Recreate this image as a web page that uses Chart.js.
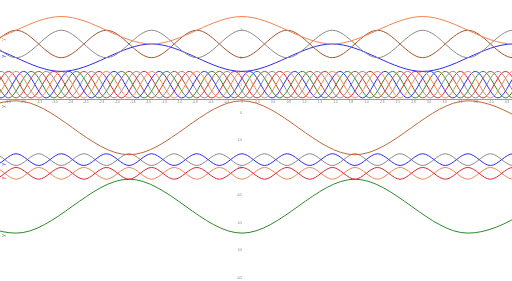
<!DOCTYPE html>
<html>
<head>
<meta charset="utf-8">
<script src="https://cdn.jsdelivr.net/npm/chart.js@4"></script>
<style>
  html, body { margin: 0; padding: 0; background: #fff; }
  #wrap { width: 512px; height: 281px; }
</style>
</head>
<body>
<div id="wrap"><canvas id="myChart"></canvas></div>
<script>
// tick labels of the shared x axis and of the centre y axis (bottom to top)
const xTicks = [-3.75, -3.5, -3.25, -3, -2.75, -2.5, -2.25, -2, -1.75, -1.5, -1.25, -1, -0.75, -0.5, -0.25,
  0, 0.25, 0.5, 0.75, 1, 1.25, 1.5, 1.75, 2, 2.25, 2.5, 2.75, 3, 3.25, 3.5, 3.75, 4, 4.25];
const yTickLabels = ['-0.5', '0.0', '0.5', '-0.5', '0.5', '1.0', '0', '-1', '0', '1'];

// every wave is listed by its turning points, the middle entry sits at the wave's shift
// top band
const topOrange = [2, 0, 2, 0, 2, 0, 2, 0, 2];
const topBrown = [1, -1, 1, -1, 1, -1, 1, -1, 1, -1, 1, -1, 1, -1, 1];
const topGray = [-1, 1, -1, 1, -1, 1, -1, 1, -1, 1, -1, 1, -1, 1, -1];
const topBlue = [-2, 0, -2, 0, -2, 0, -2, 0, -2];
// dense band above the x axis
const midOrange = [-1, 1, -1, 1, -1, 1, -1, 1, -1, 1, -1, 1, -1, 1, -1, 1, -1, 1, -1, 1, -1, 1, -1, 1, -1, 1, -1];
const midBrown = [1, -1, 1, -1, 1, -1, 1, -1, 1, -1, 1, -1, 1, -1, 1, -1, 1, -1, 1, -1, 1, -1, 1, -1, 1, -1, 1];
const midBlue = [-1, 1, -1, 1, -1, 1, -1, 1, -1, 1, -1, 1, -1, 1, -1, 1, -1, 1, -1, 1, -1, 1, -1, 1, -1, 1, -1];
const midGray = [1, -1, 1, -1, 1, -1, 1, -1, 1, -1, 1, -1, 1, -1, 1, -1, 1, -1, 1, -1, 1, -1, 1, -1, 1, -1, 1];
const midGreen = [-1, 1, -1, 1, -1, 1, -1, 1, -1, 1, -1, 1, -1, 1, -1, 1, -1, 1, -1, 1, -1, 1, -1, 1, -1, 1, -1];
const midRed = [1, -1, 1, -1, 1, -1, 1, -1, 1, -1, 1, -1, 1, -1, 1, -1, 1, -1, 1, -1, 1, -1, 1, -1, 1, -1, 1];
// slow waves
const bigBrown = [-1, 1, -1, 1, -1, 1, -1];
const bigGreen = [1, 0, 1, 0, 1, 0, 1];
// narrow band below
const lowBlue = [-1, 1, -1, 1, -1, 1, -1, 1, -1, 1, -1, 1, -1, 1, -1, 1, -1, 1, -1, 1, -1, 1, -1, 1, -1, 1, -1];
const lowGray = [1, -1, 1, -1, 1, -1, 1, -1, 1, -1, 1, -1, 1, -1, 1, -1, 1, -1, 1, -1, 1, -1, 1, -1, 1, -1, 1];
const lowRed = [-1, 1, -1, 1, -1, 1, -1, 1, -1, 1, -1, 1, -1, 1, -1, 1, -1, 1, -1, 1, -1, 1, -1, 1, -1, 1, -1];
const lowOrange = [1, -1, 1, -1, 1, -1, 1, -1, 1, -1, 1, -1, 1, -1, 1, -1, 1, -1, 1, -1, 1, -1, 1, -1, 1, -1, 1];

// spacing between turning points, in x units
const halfSteps = { slow: 1.811, top: 1.449, mid: 0.7244, fast: 0.3622 };
// phase shifts of the dense band
const midShifts = [0, 0.1207, 0.2415];
// little rotated names at the left end of some lines
const sideLabels = { a: 'y', d: 'y', k: 'y', l: 'y', n: 'y', p: 'y' };

const colorVar = {
    orange: '#f4834f',
    brown: '#a8522c',
    rust: '#c0663a',
    gray: '#8a8a8a',
    blue: '#2b2bf5',
    red: '#dc2430',
    green: '#2a8a2a',
    axis: '#999999',
}

function wave(values, half, shift) {
    const mid = (values.length - 1) / 2;
    return values.map((v, i) => ({ x: (i - mid) * half + shift, y: v }));
}

const H = 281;
function band(vTop, pTop, vBot, pBot) {
    const k = (vTop - vBot) / (pBot - pTop);
    return { type: 'linear', display: false, min: vBot - (H - pBot) * k, max: vTop + pTop * k };
}

function line(label, values, half, color, axis, shift = 0) {
    return {
        label: label,
        data: wave(values, half, shift),
        borderColor: color,
        borderWidth: 1,
        pointRadius: 0,
        cubicInterpolationMode: 'monotone',
        yAxisID: axis,
        clip: false,
    };
}

// writes the side labels where each line enters the plot
const sideLabelPlugin = {
    id: 'sideLabels',
    afterDatasetsDraw(chart) {
        const c = chart.ctx;
        const left = chart.chartArea.left + 4;
        chart.data.datasets.forEach((ds, di) => {
            const text = sideLabels[ds.label];
            if (!text) return;
            const pts = chart.getDatasetMeta(di).data;
            let i = 0;
            while (i < pts.length - 2 && pts[i + 1].x < left) i++;
            const t = (left - pts[i].x) / (pts[i + 1].x - pts[i].x);
            const y = pts[i].y + (pts[i + 1].y - pts[i].y) * (3 * t * t - 2 * t * t * t);
            c.save();
            c.translate(left + 1, y + 4);
            c.rotate(-Math.PI / 2);
            c.font = '5px sans-serif';
            c.fillStyle = ds.borderColor;
            c.textAlign = 'center';
            c.fillText(text, 0, 0);
            c.restore();
        });
    }
};

const ctx = document.getElementById('myChart');

new Chart(ctx, {
    type: 'line',
    data: {
        datasets: [
            line('a', topOrange, halfSteps.top, colorVar.orange, 'yTop'),
            line('b', topBrown, halfSteps.mid, colorVar.brown, 'yTop'),
            line('c', topGray, halfSteps.mid, colorVar.gray, 'yTop'),
            line('d', topBlue, halfSteps.top, colorVar.blue, 'yTop'),
            line('e', midOrange, halfSteps.fast, colorVar.orange, 'yMid', midShifts[0]),
            line('f', midBrown, halfSteps.fast, colorVar.brown, 'yMid', midShifts[0]),
            line('g', midBlue, halfSteps.fast, colorVar.blue, 'yMid', midShifts[1]),
            line('h', midGray, halfSteps.fast, colorVar.gray, 'yMid', midShifts[1]),
            line('i', midGreen, halfSteps.fast, colorVar.green, 'yMid', midShifts[2]),
            line('j', midRed, halfSteps.fast, colorVar.red, 'yMid', midShifts[2]),
            line('k', bigBrown, halfSteps.slow, colorVar.rust, 'yBig'),
            line('l', lowBlue, halfSteps.fast, colorVar.blue, 'yLowA'),
            line('m', lowGray, halfSteps.fast, colorVar.gray, 'yLowA'),
            line('n', lowRed, halfSteps.fast, colorVar.red, 'yLowB'),
            line('o', lowOrange, halfSteps.fast, colorVar.orange, 'yLowB'),
            line('p', bigGreen, halfSteps.slow, colorVar.green, 'yGreen'),
        ]
    },
    options: {
        responsive: true,
        maintainAspectRatio: false,
        animation: false,
        layout: { padding: 0 },
        plugins: { legend: { display: false }, tooltip: { enabled: false } },
        scales: {
            x: {
                type: 'linear',
                min: -3.88,
                max: 4.33,
                position: { y: 6 },
                afterBuildTicks: (scale) => { scale.ticks = xTicks.map(v => ({ value: v })); },
                grid: { drawOnChartArea: false, drawTicks: false },
                border: { color: colorVar.axis },
                ticks: { font: { size: 3 }, color: '#777', padding: 1, autoSkip: false, maxRotation: 0 },
            },
            y: {
                type: 'linear',
                min: -0.5,
                max: 9.5,
                position: { x: 0 },
                grid: { display: false },
                border: { display: false },
                ticks: {
                    stepSize: 1,
                    font: { size: 3 },
                    color: '#777',
                    padding: 1,
                    callback: (v, i) => yTickLabels[i],
                },
            },
            yTop: band(2, 14, -2, 70),
            yMid: band(1, 70, -1, 97),
            yBig: band(1, 100, -1, 155),
            yLowA: band(1, 154, -1, 166),
            yLowB: band(1, 168, -1, 180),
            yGreen: band(1, 180, 0, 235),
        }
    },
    plugins: [sideLabelPlugin]
});
</script>
</body>
</html>
